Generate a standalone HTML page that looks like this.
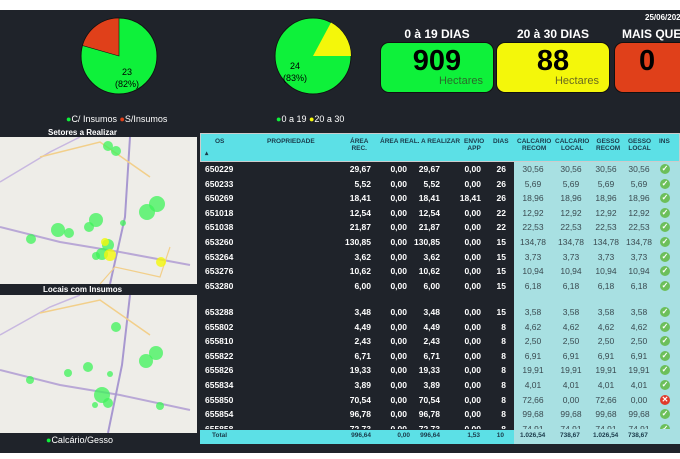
<!DOCTYPE html>
<html><head><meta charset="utf-8"><style>
*{margin:0;padding:0;box-sizing:border-box}
body{width:680px;height:459px;overflow:hidden;background:#fff;font-family:"Liberation Sans",sans-serif;position:relative}
.a{position:absolute}
#bg{left:0;top:10px;width:680px;height:443px;background:#1f232a}
.t{color:#fff;font-weight:bold;font-size:9px;white-space:nowrap}
.kt{font-weight:bold;color:#fff;font-size:12px;text-align:center;width:114px}
.box{top:42px;height:51px;width:114px;border-radius:9px;border:1px solid #111}
.big{font-size:29px;font-weight:bold;text-align:center;width:100%;top:2px;color:#000}
.hec{font-size:11px;top:32px;right:10px}
.row{position:absolute;left:200px;width:480px;height:14.6px;font-size:8.5px;font-weight:bold;color:#fff}
.row span{position:absolute;top:2px}
.ok{display:inline-block;width:10px;height:10px;border-radius:50%;background:#6cbf5a;color:#fff;font-size:8px;line-height:10px;text-align:center}
</style></head><body>
<div id="bg" class="a"></div>
<div class="a t" style="left:645px;top:13px;font-size:8px">25/06/2025</div>
<svg class="a" style="left:0;top:10px" width="380" height="120">
<circle cx="119" cy="46" r="38" fill="#0ef13a" stroke="#111"/>
<path d="M119 46 L119 8 A38 38 0 0 0 82.5 35.5 Z" fill="#e0401a" stroke="#111" stroke-width=".6"/>
<circle cx="313" cy="46" r="38" fill="#0ef13a" stroke="#111"/>
<path d="M313 46 L331 12.5 A38 38 0 0 1 351 46 Z" fill="#f4f70a"/>
<text x="127" y="65" font-size="9" text-anchor="middle" font-family="Liberation Sans">23</text>
<text x="127" y="77" font-size="9" text-anchor="middle" font-family="Liberation Sans">(82%)</text>
<text x="295" y="59" font-size="9" text-anchor="middle" font-family="Liberation Sans">24</text>
<text x="295" y="71" font-size="9" text-anchor="middle" font-family="Liberation Sans">(83%)</text>
</svg>
<div class="a" style="left:66px;top:114px;color:#fff;font-size:9px"><span style="color:#0ef13a">●</span>C/ Insumos <span style="color:#e0401a">●</span>S/Insumos</div>
<div class="a" style="left:276px;top:114px;color:#fff;font-size:9px"><span style="color:#0ef13a">●</span>0 a 19 <span style="color:#f4f70a">●</span>20 a 30</div>
<div class="a kt" style="left:380px;top:27px">0 à 19 DIAS</div>
<div class="a kt" style="left:496px;top:27px">20 à 30 DIAS</div>
<div class="a kt" style="left:614px;top:27px;text-align:left;padding-left:8px">MAIS QUE 30</div>
<div class="a box" style="left:380px;background:#0ef13a"><div class="a big">909</div><div class="a hec" style="color:#2a6a2a">Hectares</div></div>
<div class="a box" style="left:496px;background:#f4f70a"><div class="a big">88</div><div class="a hec" style="color:#6a6a20">Hectares</div></div>
<div class="a box" style="left:614px;width:80px;background:#e0401a"><div class="a big" style="text-align:left;left:24px">0</div></div>
<div class="a t" style="left:48px;top:128px;font-size:8px">Setores a Realizar</div>
<div class="a t" style="left:43px;top:285px;font-size:8px">Locais com Insumos</div>
<div class="a" style="left:46px;top:435px;color:#fff;font-size:9px"><span style="color:#0ef13a">●</span>Calcário/Gesso</div>
<svg class="a" style="left:0;top:137px" width="197" height="147">
<rect width="197" height="147" fill="#eeede8"/>
<path d="M0 45 L50 15 L80 0" stroke="#c8b8e0" stroke-width="1.5" fill="none"/>
<path d="M0 90 L60 105 L120 115 L190 128" stroke="#b9a8d6" stroke-width="2" fill="none"/>
<path d="M130 0 L125 80 L110 147" stroke="#a898d0" stroke-width="2" fill="none"/>
<path d="M40 20 L100 5 L150 40" stroke="#f2cf8a" stroke-width="1.5" fill="none"/>
<path d="M100 147 L115 130 L160 140 L170 110" stroke="#f2cf8a" stroke-width="1.2" fill="none"/>
<g fill="#3ef35a" fill-opacity=".75"><circle cx="108" cy="9" r="5"/><circle cx="116" cy="14" r="5"/><circle cx="147" cy="75" r="8"/><circle cx="157" cy="67" r="8"/><circle cx="96" cy="83" r="7"/><circle cx="89" cy="90" r="5"/><circle cx="58" cy="93" r="7"/><circle cx="69" cy="96" r="5"/><circle cx="31" cy="102" r="5"/><circle cx="123" cy="86" r="3"/><circle cx="108" cy="108" r="6"/><circle cx="102" cy="117" r="6"/><circle cx="96" cy="119" r="4"/></g>
<g fill="#f4f70a" fill-opacity=".8"><circle cx="110" cy="118" r="6"/><circle cx="105" cy="105" r="4"/><circle cx="161" cy="125" r="5"/></g>
</svg>
<svg class="a" style="left:0;top:295px" width="197" height="138">
<rect width="197" height="138" fill="#eeede8"/>
<path d="M0 40 L50 12 L80 0" stroke="#c8b8e0" stroke-width="1.5" fill="none"/>
<path d="M0 75 L60 90 L120 100 L190 115" stroke="#b9a8d6" stroke-width="2" fill="none"/>
<path d="M130 0 L122 70 L108 138" stroke="#a898d0" stroke-width="2" fill="none"/>
<path d="M40 18 L100 5 L150 40" stroke="#f2cf8a" stroke-width="1.5" fill="none"/>
<g fill="#3ef35a" fill-opacity=".75"><circle cx="116" cy="32" r="5"/><circle cx="146" cy="66" r="7"/><circle cx="156" cy="58" r="7"/><circle cx="88" cy="72" r="5"/><circle cx="68" cy="78" r="4"/><circle cx="30" cy="85" r="4"/><circle cx="110" cy="79" r="3"/><circle cx="102" cy="100" r="8"/><circle cx="108" cy="108" r="5"/><circle cx="95" cy="110" r="3"/><circle cx="160" cy="111" r="4"/></g>
</svg>
<div class="a" style="left:514px;top:162px;width:166px;height:282px;background:#a8e0e2"></div>
<div class="a" style="left:200px;top:133px;width:480px;height:29px;background:#5ce0e6;border:1px solid #ccc"></div>
<div class="a" style="left:200px;top:430px;width:480px;height:14px;background:#5ce0e6"></div>
<div class="a" style="left:514px;top:430px;width:166px;height:14px;background:#a8e0e2"></div>
<div class="a" style="left:200px;top:133px;width:480px;height:29px;font-size:6.5px;font-weight:bold;color:#1a3a4a">
<span class="a" style="left:15px;top:5px">OS</span><span class="a" style="left:5px;top:16px">▴</span>
<span class="a" style="left:67px;top:5px">PROPRIEDADE</span>
<span class="a" style="left:150px;top:5px;text-align:center">ÁREA<br>REC.</span>
<span class="a" style="left:180px;top:5px">ÁREA REAL.</span>
<span class="a" style="left:221px;top:5px">A REALIZAR</span>
<span class="a" style="left:264px;top:5px;text-align:center">ENVIO<br>APP</span>
<span class="a" style="left:293px;top:5px">DIAS</span>
<span class="a" style="left:317px;top:5px;text-align:center">CALCARIO<br>RECOM</span>
<span class="a" style="left:355px;top:5px;text-align:center">CALCARIO<br>LOCAL</span>
<span class="a" style="left:396px;top:5px;text-align:center">GESSO<br>RECOM</span>
<span class="a" style="left:428px;top:5px;text-align:center">GESSO<br>LOCAL</span>
<span class="a" style="left:459px;top:5px">INS</span>
</div>
<div id="rows"></div>
<script>
const d=[["650229","29,67","0,00","29,67","0,00","26","30,56","30,56","30,56","30,56",1],
["650233","5,52","0,00","5,52","0,00","26","5,69","5,69","5,69","5,69",1],
["650269","18,41","0,00","18,41","18,41","26","18,96","18,96","18,96","18,96",1],
["651018","12,54","0,00","12,54","0,00","22","12,92","12,92","12,92","12,92",1],
["651038","21,87","0,00","21,87","0,00","22","22,53","22,53","22,53","22,53",1],
["653260","130,85","0,00","130,85","0,00","15","134,78","134,78","134,78","134,78",1],
["653264","3,62","0,00","3,62","0,00","15","3,73","3,73","3,73","3,73",1],
["653276","10,62","0,00","10,62","0,00","15","10,94","10,94","10,94","10,94",1],
["653280","6,00","0,00","6,00","0,00","15","6,18","6,18","6,18","6,18",1],
null,
["653288","3,48","0,00","3,48","0,00","15","3,58","3,58","3,58","3,58",1],
["655802","4,49","0,00","4,49","0,00","8","4,62","4,62","4,62","4,62",1],
["655810","2,43","0,00","2,43","0,00","8","2,50","2,50","2,50","2,50",1],
["655822","6,71","0,00","6,71","0,00","8","6,91","6,91","6,91","6,91",1],
["655826","19,33","0,00","19,33","0,00","8","19,91","19,91","19,91","19,91",1],
["655834","3,89","0,00","3,89","0,00","8","4,01","4,01","4,01","4,01",1],
["655850","70,54","0,00","70,54","0,00","8","72,66","0,00","72,66","0,00",0],
["655854","96,78","0,00","96,78","0,00","8","99,68","99,68","99,68","99,68",1],
["655858","72,73","0,00","72,73","0,00","8","74,91","74,91","74,91","74,91",1]];
const C=[347,382,426,461,484,533,571,606,639];
let h="";
d.forEach((r,i)=>{if(!r)return;let y=162+i*14.6+(i>9?-3:0);
h+=`<div class="row" style="top:${y}px;${i==18?'height:7px;overflow:hidden':''}"><span style="left:5px">${r[0]}</span>`;
for(let k=1;k<6;k++)h+=`<span style="right:${680-[371,407,440,481,506][k-1]}px">${r[k]}</span>`;
for(let k=6;k<10;k++)h+=`<span style="left:${C[k-1]-200-16}px;width:32px;text-align:center;color:#3a4a50;font-weight:normal">${r[k]}</span>`;
h+=`<span class="ok" style="left:460px;top:2px;${r[10]?'':'background:#e03a2a'}">${r[10]?'✓':'✕'}</span></div>`;});
h+=`<div class="row" style="top:430px;font-size:6.5px;color:#1a3a4a"><span style="left:12px">Total</span><span style="right:309px">996,64</span><span style="right:270px">0,00</span><span style="right:240px">996,64</span><span style="right:200px">1,53</span><span style="right:176px">10</span><span style="left:320px">1.026,54</span><span style="left:360px">738,67</span><span style="left:393px">1.026,54</span><span style="left:428px">738,67</span></div>`;
document.getElementById("rows").innerHTML=h;
</script>
</body></html>
